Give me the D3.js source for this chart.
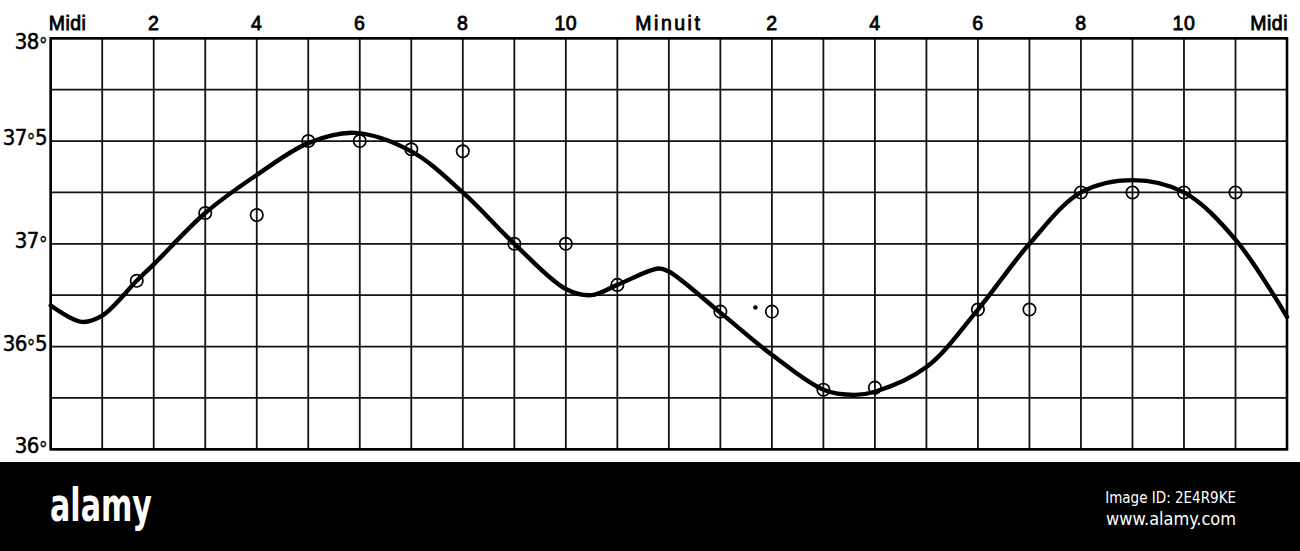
<!DOCTYPE html>
<html><head><meta charset="utf-8">
<script src="https://cdn.jsdelivr.net/npm/d3@7"></script>
<style>
html,body{margin:0;padding:0;background:#fff;}
svg{display:block;}
</style></head>
<body>
<svg id="chart" width="1300" height="551"></svg>
<script>
// ---- data ----
const hourTicks = [0,2,4,6,8,10,12,14,16,18,20,22,24];
const hourLabels = ["Midi","2","4","6","8","10","Minuit","2","4","6","8","10","Midi"];
const tempTicks = [36,36.5,37,37.5,38];
const tempLabels = [["36",""],["36","5"],["37",""],["37","5"],["38",""]];
// smoothed curve (hours from noon, °C)
const curveHours = [0,0.6,1,1.67,2,3,4,5,5.9,7,8,9,10,10.5,11,11.8,12,13,14,15,15.6,16,17,18,19,20,21,22,23,24];
const curveTemps = [36.70,36.62,36.65,36.82,36.90,37.15,37.335,37.49,37.54,37.45,37.25,37.00,36.78,36.75,36.80,36.88,36.865,36.665,36.46,36.29,36.265,36.28,36.40,36.68,37.00,37.25,37.31,37.25,37.02,36.645];
// observed readings (open circles)
const obsHours = [1.67,3,4,5,6,7,8,9,10,11,13,14,15,16,18,19,20,21,22,23];
const obsTemps = [36.82,37.15,37.14,37.5,37.5,37.46,37.45,37.0,37.0,36.80,36.67,36.67,36.29,36.30,36.68,36.68,37.25,37.25,37.25,37.25];
// small isolated dot
const dotHours = [13.68];
const dotTemps = [36.69];

// ---- drawing ----
const svg = d3.select("#chart");
svg.append("rect").attr("width",1300).attr("height",551).attr("fill","#fff");

const x = d3.scaleLinear().domain([0,24]).range([50.7,1287]);
const y = d3.scaleLinear().domain([36,38]).range([449.3,38.3]);

const grid = svg.append("g");
grid.selectAll("line.v").data(d3.range(0,25)).join("line")
  .attr("x1",d=>x(d)).attr("x2",d=>x(d))
  .attr("y1",y(38)).attr("y2",y(36))
  .attr("stroke","#111").attr("stroke-width",1.8);
grid.selectAll("line.h").data(d3.range(36,38.001,0.25)).join("line")
  .attr("y1",d=>y(d)).attr("y2",d=>y(d))
  .attr("x1",x(0)).attr("x2",x(24))
  .attr("stroke","#111").attr("stroke-width",1.8);
grid.append("rect").attr("x",x(0)).attr("y",y(38))
  .attr("width",x(24)-x(0)).attr("height",y(36)-y(38))
  .attr("fill","none").attr("stroke","#000").attr("stroke-width",2.6);

// top labels
svg.append("g").selectAll("text").data(hourTicks).join("text")
  .attr("x",(d,i)=> i===0 ? x(d)-2 : (i===hourTicks.length-1 ? x(d)+1 : x(d)))
  .attr("y",30)
  .attr("text-anchor",(d,i)=> i===0 ? "start" : (i===hourTicks.length-1 ? "end" : "middle"))
  .attr("font-family","'Liberation Sans', Arial, sans-serif")
  .attr("font-size",19.5)
  .attr("letter-spacing",(d,i)=> hourLabels[i]==="Minuit" ? 2.5 : 0.5)
  .attr("stroke","#000").attr("stroke-width",0.8)
  .attr("fill","#000")
  .text((d,i)=>hourLabels[i]);

// left labels
const yl = svg.append("g").selectAll("text").data(tempTicks).join("text")
  .attr("x",47)
  .attr("y",d=>Math.max(y(d)+4,49))
  .attr("text-anchor","end")
  .attr("font-family","'DejaVu Sans Condensed','Liberation Sans Narrow', sans-serif")
  .attr("font-size",22)
  .attr("letter-spacing",-0.5)
  .attr("stroke","#000").attr("stroke-width",0.5)
  .attr("fill","#000");
yl.each(function(d,i){
  const t = d3.select(this);
  const parts = tempLabels[i];
  t.append("tspan").text(parts[0]);
  t.append("tspan").attr("font-size",19).attr("dy",3).attr("stroke-width",0.3).text("°");
  t.append("tspan").attr("dy",-3).text(parts[1]);
});

// curve
const line = d3.line().x((d,i)=>x(curveHours[i])).y(d=>y(d)).curve(d3.curveCatmullRom.alpha(0.5));
svg.append("path").datum(curveTemps).attr("d",line)
  .attr("fill","none").attr("stroke","#000").attr("stroke-width",4.4)
  .attr("stroke-linejoin","round").attr("stroke-linecap","round");

// observations
svg.append("g").selectAll("circle").data(obsTemps).join("circle")
  .attr("cx",(d,i)=>x(obsHours[i])).attr("cy",d=>y(d)).attr("r",6.2)
  .attr("fill","none").attr("stroke","#000").attr("stroke-width",1.7);
svg.append("g").selectAll("circle").data(dotTemps).join("circle")
  .attr("cx",(d,i)=>x(dotHours[i])).attr("cy",d=>y(d)).attr("r",2.3)
  .attr("fill","#000");

// watermark band
svg.append("rect").attr("x",0).attr("y",462).attr("width",1300).attr("height",89).attr("fill","#000");
svg.append("text").attr("x",50).attr("y",521)
  .attr("font-family","'DejaVu Sans Condensed','Liberation Sans Narrow',sans-serif")
  .attr("font-weight","bold").attr("font-size",46).attr("fill","#fff")
  .attr("textLength",102).attr("lengthAdjust","spacingAndGlyphs")
  .text("alamy");
svg.append("text").attr("x",1236).attr("y",503).attr("text-anchor","end")
  .attr("font-family","'DejaVu Sans Condensed','Liberation Sans Narrow',sans-serif")
  .attr("font-size",15).attr("fill","#fff")
  .text("Image ID: 2E4R9KE");
svg.append("text").attr("x",1236).attr("y",525).attr("text-anchor","end")
  .attr("font-family","'DejaVu Sans Condensed','Liberation Sans Narrow',sans-serif")
  .attr("font-size",18).attr("fill","#fff")
  .text("www.alamy.com");
</script>
</body></html>
